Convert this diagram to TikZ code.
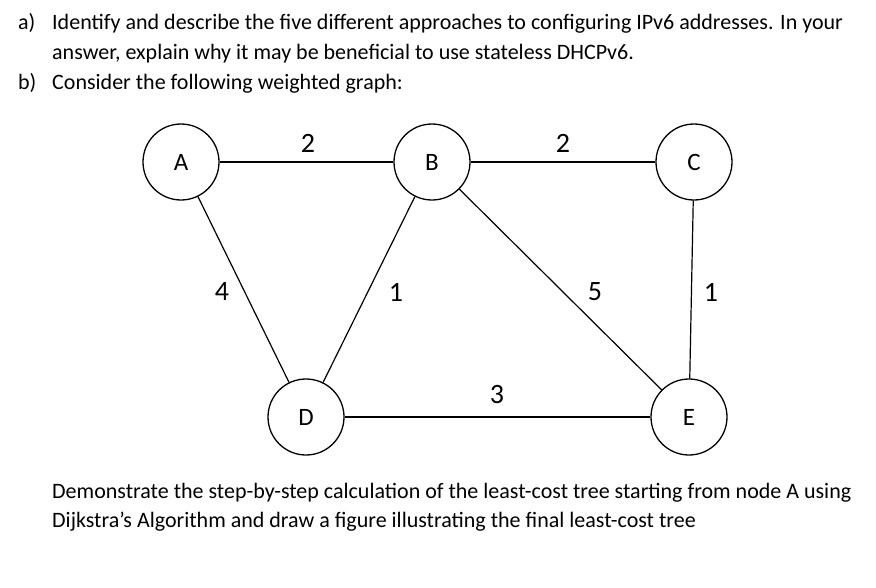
\documentclass[tikz,border=0pt]{standalone}
\usepackage{fontspec}
\setmainfont{Carlito}
\begin{document}
\begin{tikzpicture}[x=1pt,y=-1pt,
  vert/.style={circle,draw,line width=1.3pt,minimum size=76pt,inner sep=0pt,font=\fontsize{25}{27}\selectfont},
  edge/.style={line width=1.2pt},
  wt/.style={font=\fontsize{28}{30}\selectfont},
  txt/.style={anchor=base west,inner sep=0pt,font=\fontsize{22}{24}\selectfont}]
\useasboundingbox (0,0) rectangle (876,587);
\node[txt] (la) at (18,29) {a)};
\node[txt] (l1) at (52,29) {Identify and describe the five different approaches to configuring IPv6 addresses. In your};
\node[txt] (l2) at (52,59) {answer, explain why it may be beneficial to use stateless DHCPv6.};
\node[txt] (lb) at (18,89) {b)};
\node[txt] (l3) at (52,89) {Consider the following weighted graph:};
\node[vert] (A) at (181,162) {A};
\node[vert] (B) at (432,162) {B};
\node[vert] (C) at (694,162) {C};
\node[vert] (D) at (306,417) {D};
\node[vert] (E) at (689,417) {E};
\draw[edge] (A) -- (B);
\draw[edge] (B) -- (C);
\draw[edge] (A) -- (D);
\draw[edge] (B) -- (D);
\draw[edge] (B) -- (E);
\draw[edge] (C) -- (E);
\draw[edge] (D) -- (E);
\node[wt] (w1) at (308,143) {2};
\node[wt] (w2) at (563,143) {2};
\node[wt] (w3) at (222,292) {4};
\node[wt] (w4) at (396,292) {1};
\node[wt] (w5) at (595,292) {5};
\node[wt] (w6) at (711,292) {1};
\node[wt] (w7) at (497,395) {3};
\node[txt] (l4) at (52,498) {Demonstrate the step-by-step calculation of the least-cost tree starting from node A using};
\node[txt] (l5) at (52,527) {Dijkstra’s Algorithm and draw a figure illustrating the final least-cost tree};
\end{tikzpicture}
\end{document}
